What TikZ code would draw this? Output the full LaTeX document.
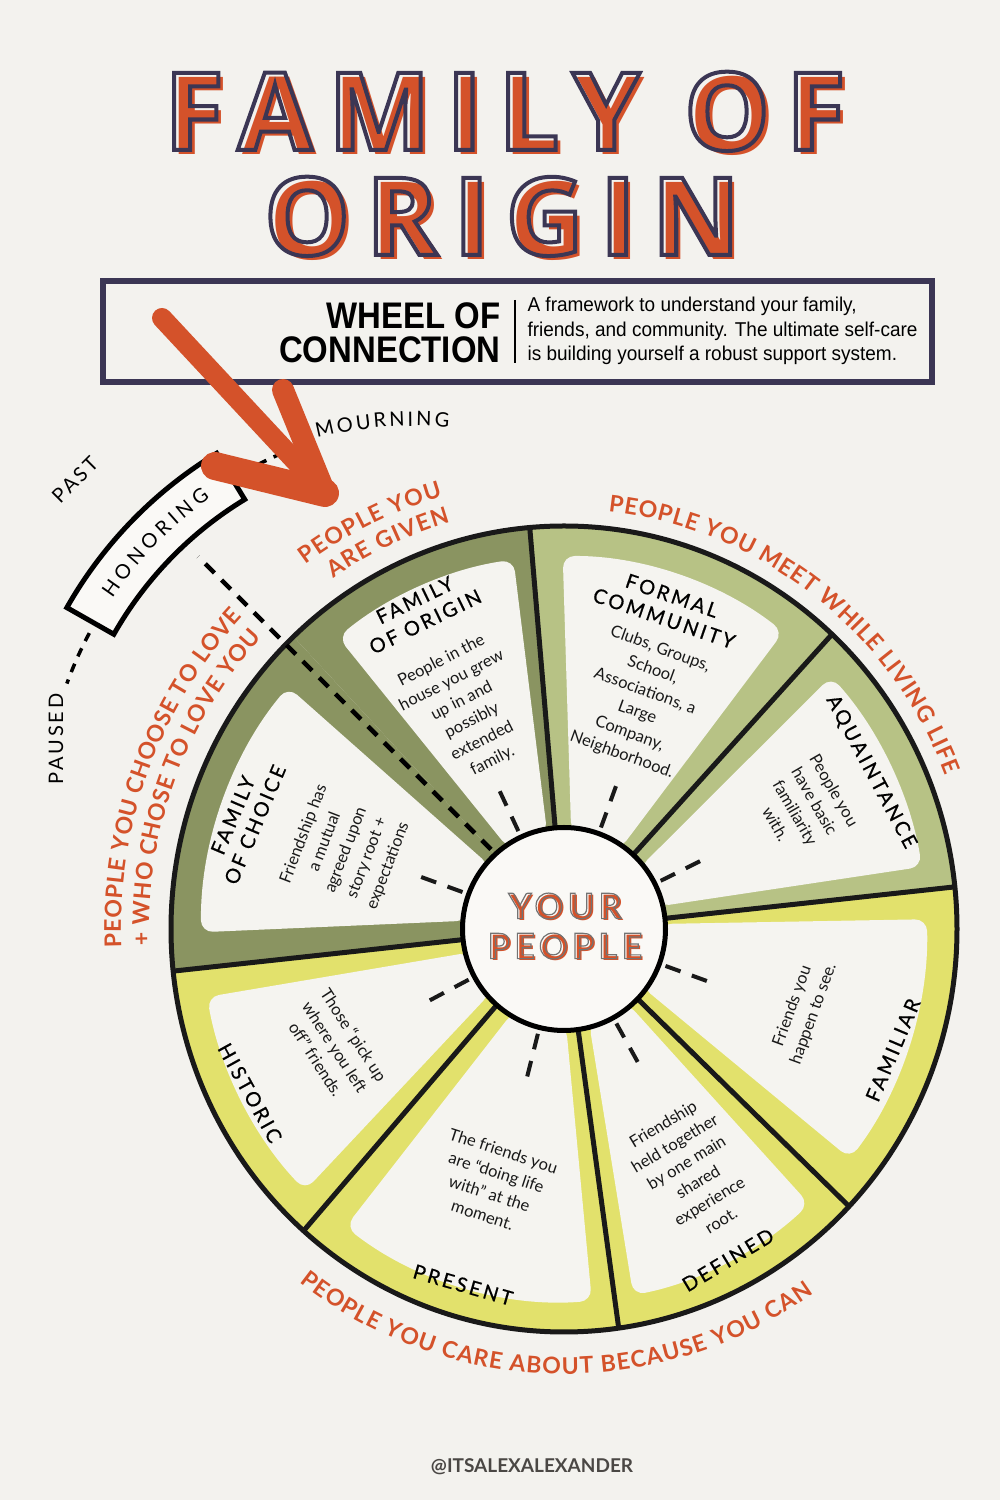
\documentclass[tikz,border=0pt]{standalone}
\usepackage{fontspec}
\setmainfont{Lato}
\newfontfamily\titlefont[LetterSpace=15]{Open Sans}
\newfontfamily\condfont[FakeStretch=0.89]{Liberation Sans}
\newfontfamily\blurbcondfont[FakeStretch=0.95]{Liberation Sans}
\newfontfamily\capsfont[LetterSpace=14]{Lato}
\newfontfamily\labelcapsfont[LetterSpace=14, FakeBold=0.6]{Lato}
\usetikzlibrary{calc,decorations.text}

\definecolor{bgpaper}{HTML}{F3F2EE}
\definecolor{innerpaper}{HTML}{F5F4F0}
\definecolor{hubpaper}{HTML}{FAF9F6}
\definecolor{olivegreen}{HTML}{8A9461}
\definecolor{sagegreen}{HTML}{B7C285}
\definecolor{limeyellow}{HTML}{E2E16C}
\definecolor{rustorange}{HTML}{D4522A}
\definecolor{inknavy}{HTML}{3B3654}
\definecolor{footgray}{HTML}{4A4744}

\newcommand{\outlineon}[1]{\special{pdf:literal direct 1 Tr #1 w}}
\newcommand{\outlineoff}{\special{pdf:literal direct 0 Tr}}
\newcommand{\rimfont}{\bfseries\fontsize{23}{25}\selectfont}
\newcommand{\ringfont}{\fontsize{20}{22}\selectfont}

\begin{document}
\begin{tikzpicture}[x=1pt, y=1pt]
    % Define the styles for the texts and lines
    \tikzstyle{titletext}=[anchor=base, inner sep=0pt, font=\titlefont\bfseries\fontsize{108}{108}\selectfont]
    \tikzstyle{capslabel}=[font=\labelcapsfont\fontsize{20}{24}\selectfont, align=center, text=black]
    \tikzstyle{ringlabel}=[font=\capsfont\fontsize{20}{24}\selectfont, align=center, text=black]
    \tikzstyle{blurb}=[font=\fontsize{16.5}{22.5}\selectfont, align=center, text=black!90]
    \tikzstyle{spoke}=[line width=5pt, black!90]
    \tikzstyle{ray}=[line width=4pt, dash pattern=on 16pt off 12pt, black!90]
    \tikzstyle{ringdash}=[line width=3.5pt, dash pattern=on 9pt off 8pt]
    \tikzstyle{rimtext}=[decorate, decoration={text along path, text align=fit to path, text color=rustorange}]
    \tikzstyle{ringtext}=[decorate, decoration={text along path, text align=fit to path, text color=black}]
    \tikzstyle{brush}=[rustorange, line cap=round, line join=round]

    % Paper and centres
    \fill[bgpaper] (0,0) rectangle (1000,1500);
    \useasboundingbox (0,0) rectangle (1000,1500);
    \coordinate (O) at (564,571);
    \coordinate (Cb) at (439,681);
    \coordinate (mournC) at (414,674);

    % Draw the title
    \node[titletext, text=rustorange] (titleFill) at (510,1345) {FAMILY OF};
    \node[titletext, text=inknavy] (titleLine) at (505,1350) {\outlineon{4}FAMILY OF\outlineoff};
    \node[titletext, text=rustorange] (originFill) at (507,1240) {ORIGIN};
    \node[titletext, text=inknavy] (originLine) at (502,1245) {\outlineon{4}ORIGIN\outlineoff};

    % Draw the header box
    \node[draw=inknavy, line width=6pt, minimum width=829pt, minimum height=101pt] (headBox) at (517.5,1168.5) {};
    \node[anchor=east, align=right, font=\condfont\bfseries\fontsize{37}{34}\selectfont] (wheelTitle) at (504,1167) {WHEEL OF\\CONNECTION};
    \draw[line width=1.5pt] (515,1200) -- (515,1137);
    \node[anchor=west, align=left, font=\blurbcondfont\fontsize{20}{24.5}\selectfont] (wheelBlurb) at (524,1169) {A framework to understand your family,\\friends, and community. The ultimate self-care\\is building yourself a robust support system.};

    % Draw the coloured sectors
    \foreach \sa/\sb/\scol in {-43.5/6/limeyellow, 6/47/sagegreen, 47/95/sagegreen, 95/133.5/olivegreen, 133.5/186/olivegreen, 186/228.5/limeyellow, 228.5/278/limeyellow, 278/316.5/limeyellow}
        \fill[\scol] (O) -- ($(O)+(\sa:393 and 403)$) arc[start angle=\sa, end angle=\sb, x radius=393, y radius=403] -- cycle;

    % Draw the light inner wedges
    \foreach \sa/\sb/\si/\so/\ei/\eo in {-43.5/6/7/5.5/3/4.5, 6/47/7.5/3.6/8/4.4, 47/95/8/5.8/9.3/4.8, 95/133.5/5/3/9/5, 133.5/186/6/6/11/5.5, 186/228.5/8/4.5/7.5/4, 228.5/278/10/4.5/6.8/3.6, 278/316.5/7/3/6/4}
        \fill[innerpaper, rounded corners=12pt] ($(O)+({\sa+\si}:96)$) -- ($(O)+({\sa+\so}:363 and 373)$) arc[start angle=\sa+\so, end angle=\sb-\eo, x radius=363, y radius=373] -- ($(O)+({\sb-\ei}:96)$) -- cycle;

    % Draw the spokes and the rim
    \foreach \a in {186, 95, 47, 6, -43.5, -82, 228.5}
        \draw[spoke] ($(O)+(\a:100)$) -- ($(O)+(\a:393 and 403)$);
    \draw[line width=5pt, black!90] (O) ellipse[x radius=393, y radius=403];
    \draw[line width=4.5pt, dash pattern=on 13pt off 10pt] ($(O)+(132.5:108)$) -- ($(O)+(134.5:522)$);

    % Draw the hub
    \node[circle, draw, line width=5pt, fill=hubpaper, minimum size=203pt, inner sep=0pt] (hub) at (O) {};
    \foreach \a in {115, 70, 26.5, -20, -61, -104, 208, 160}
        \draw[ray] ($(O)+(\a:108)$) -- ($(O)+(\a:153)$);
    \node[font=\capsfont\bfseries\fontsize{35}{40}\selectfont, align=center, text=rustorange] (yourFill) at ($(hub)+(3,1)$) {YOUR\\PEOPLE};
    \node[font=\capsfont\bfseries\fontsize{35}{40}\selectfont, align=center, text=black!55] (yourLine) at ($(hub)+(1,3)$) {\outlineon{1.2}YOUR\\PEOPLE\outlineoff};

    % Sector names
    \node[capslabel, rotate=26] (labelOrigin) at (420,889) {FAMILY\\OF ORIGIN};
    \node[capslabel, rotate=-19] (labelFormal) at (668,893) {FORMAL\\COMMUNITY};
    \node[capslabel, rotate=-62] (labelAquaint) at (871,728) {AQUAINTANCE};
    \node[capslabel, rotate=67] (labelFamiliar) at (893,450) {FAMILIAR};
    \node[capslabel, rotate=31] (labelDefined) at (728,240) {DEFINED};
    \node[capslabel, rotate=-16] (labelPresent) at (463,215) {PRESENT};
    \node[capslabel, rotate=-61] (labelHistoric) at (250,407) {HISTORIC};
    \node[capslabel, rotate=67] (labelChoice) at (244,680) {FAMILY\\OF CHOICE};

    % Sector descriptions
    \node[blurb, rotate=27] (blurbOrigin) at (467,789) {People in the\\house you grew\\up in and\\possibly\\extended\\family.};
    \node[blurb, rotate=-20] (blurbFormal) at (641,798) {Clubs, Groups,\\School,\\Associations, a\\Large\\Company,\\Neighborhood.};
    \node[blurb, rotate=-60] (blurbAquaint) at (805,693) {People you\\have basic\\familiarity\\with.};
    \node[blurb, rotate=70] (blurbFamiliar) at (803,490) {Friends you\\happen to see.};
    \node[blurb, rotate=31] (blurbDefined) at (692,328) {Friendship\\held together\\by one main\\shared\\experience\\root.};
    \node[blurb, rotate=-18] (blurbPresent) at (493,317) {The friends you\\are “doing life\\with” at the\\moment.};
    \node[blurb, rotate=-57] (blurbHistoric) at (335,453) {Those “pick up\\where you left\\off” friends.};
    \node[blurb, rotate=69] (blurbChoice) at (346,650) {Friendship has\\a mutual\\agreed upon\\story root +\\expectations};

    % Orange words round the rim
    \path[rimtext, decoration={text={|\rimfont|PEOPLE YOU}}] ($(O)+(126:440 and 450)$) arc[start angle=126, end angle=106, x radius=440, y radius=450];
    \path[rimtext, decoration={text={|\rimfont|ARE GIVEN}}] ($(O)+(124:413 and 423)$) arc[start angle=124, end angle=106, x radius=413, y radius=423];
    \path[rimtext, decoration={text={|\rimfont|PEOPLE YOU MEET WHILE LIVING LIFE}}] ($(O)+(83.8:410 and 420)$) arc[start angle=83.8, end angle=21.5, x radius=410, y radius=420];
    \path[rimtext, decoration={text={|\rimfont|PEOPLE YOU CHOOSE TO LOVE}}] ($(O)+(182.3:443 and 453)$) arc[start angle=182.3, end angle=136.5, x radius=443, y radius=453];
    \path[rimtext, decoration={text={|\rimfont|+ WHO CHOSE TO LOVE YOU}}] ($(O)+(182.2:415 and 425)$) arc[start angle=182.2, end angle=136.7, x radius=415, y radius=425];
    \path[rimtext, decoration={text={|\rimfont|PEOPLE YOU CARE ABOUT BECAUSE YOU CAN}}] ($(O)+(232.5:435 and 445)$) arc[start angle=232.5, end angle=305, x radius=435, y radius=445];

    % The outer ring: paused, honoring, mourning
    \draw[ringdash] ($(Cb)+(152:396)$) arc[start angle=152, end angle=160, radius=396];
    \draw[ringdash] ($(Cb)+(117:398)$) arc[start angle=117, end angle=112, radius=398];
    \draw[line width=5pt, fill=hubpaper] ($(Cb)+(121.3:428)$) arc[start angle=121.3, end angle=150.4, radius=428] -- ($(Cb)+(150.4:374)$) arc[start angle=150.4, end angle=121.3, radius=374] -- cycle;
    \path[ringtext, decoration={text={|\ringfont|HONORING}}] ($(Cb)+(146:394)$) arc[start angle=146, end angle=125.5, radius=394];
    \path[ringtext, decoration={text={|\ringfont|MOURNING}}] ($(mournC)+(104:400)$) arc[start angle=104, end angle=85, radius=400];
    \node[ringlabel, rotate=90] (paused) at (56,761) {PAUSED};
    \node[ringlabel, rotate=45] (past) at (75,1020) {PAST};

    % Draw the arrow
    \coordinate (arrowTail) at (162,1182);
    \coordinate (arrowTip) at (325,1007);
    \coordinate (barbLow) at (215,1034);
    \coordinate (barbHigh) at (283,1110);
    \draw[brush, line width=20pt] (arrowTail) -- (arrowTip);
    \draw[brush, line width=28pt] (barbLow) -- (arrowTip);
    \draw[brush, line width=22pt] (barbHigh) -- (arrowTip);

    % Footer
    \node[font=\bfseries\fontsize{19}{19}\selectfont, text=footgray] (handle) at (532,33) {@ITSALEXALEXANDER};
\end{tikzpicture}
\end{document}
